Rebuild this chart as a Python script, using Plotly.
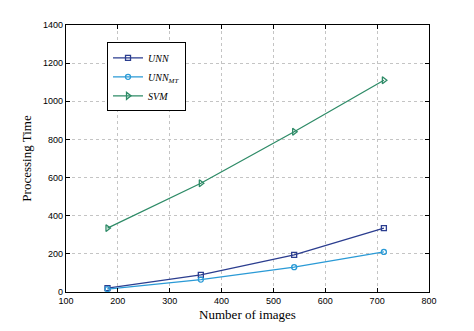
import plotly.graph_objects as go

x_vals = [180, 360, 540, 713]
unn = [20, 90, 195, 335]
unn_mt = [15, 65, 130, 210]
svm = [335, 570, 840, 1110]

x_ticks = [100, 200, 300, 400, 500, 600, 700, 800]
y_ticks = [0, 200, 400, 600, 800, 1000, 1200, 1400]

fig = go.Figure()
fig.add_trace(go.Scatter(x=x_vals, y=unn, mode="lines+markers", name="<i>UNN</i>",
                         line=dict(color="#2b3d8f", width=1.3),
                         marker=dict(symbol="square-open", size=5, color="#2b3d8f", line=dict(width=1.3))))
fig.add_trace(go.Scatter(x=x_vals, y=unn_mt, mode="lines+markers", name="<i>UNN<sub>MT</sub></i>",
                         line=dict(color="#2a9ad6", width=1.3),
                         marker=dict(symbol="circle-open", size=5, color="#2a9ad6", line=dict(width=1.3))))
fig.add_trace(go.Scatter(x=x_vals, y=svm, mode="lines+markers", name="<i>SVM</i>",
                         line=dict(color="#2e8b67", width=1.3),
                         marker=dict(symbol="triangle-right-open", size=6, color="#2e8b67", line=dict(width=1.3))))

axis_common = dict(showline=True, linecolor="black", linewidth=1.2, mirror="allticks",
                   ticks="inside", ticklen=4, tickcolor="black",
                   showgrid=True, gridcolor="#c4c4c4", griddash="dot", gridwidth=1,
                   zeroline=False, tickfont=dict(family="Liberation Sans, Arial", size=9, color="black"))

fig.update_xaxes(range=[100, 800], tickvals=x_ticks, ticktext=[str(v) for v in x_ticks],
                 title=dict(text="Number of images", font=dict(family="Liberation Serif, serif", size=13, color="black"), standoff=4),
                 **axis_common)
fig.update_yaxes(range=[0, 1400], tickvals=y_ticks, ticktext=[str(v) for v in y_ticks],
                 title=dict(text="Processing Time", font=dict(family="Liberation Serif, serif", size=13, color="black"), standoff=8),
                 **axis_common)

fig.update_layout(width=474, height=331, margin=dict(l=66, r=45, t=25, b=37),
                  plot_bgcolor="white", paper_bgcolor="white",
                  legend=dict(x=0.113, y=0.935, xanchor="left", yanchor="top",
                              bordercolor="black", borderwidth=1, bgcolor="white",
                              font=dict(family="Liberation Serif, serif", size=10, color="black"),
                              tracegroupgap=0, itemwidth=30))

fig.write_html("out.html")
